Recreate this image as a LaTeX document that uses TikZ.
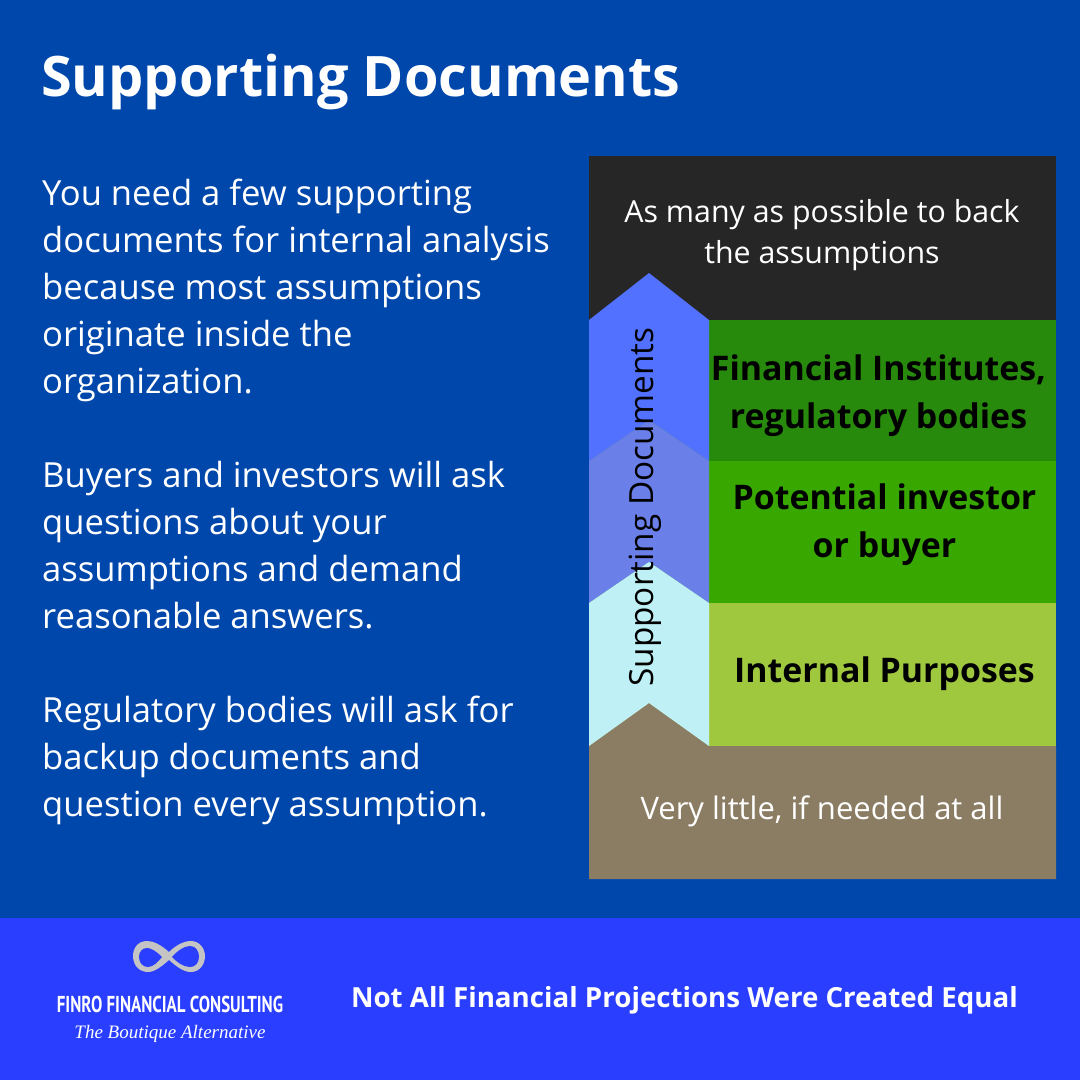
\documentclass[tikz,border=0pt]{standalone}
\usepackage{fontspec}
\setmainfont{Open Sans}
\newfontfamily\condfont{PT Sans}
\newfontfamily\tagfont{Liberation Serif}
\definecolor{bgblue}{HTML}{0047AB}
\definecolor{footblue}{HTML}{2A3EFF}
\definecolor{cdark}{HTML}{262626}
\definecolor{cgreenA}{HTML}{288A0C}
\definecolor{cgreenB}{HTML}{38A800}
\definecolor{cgreenC}{HTML}{A0C83E}
\definecolor{ctan}{HTML}{8B7D63}
\definecolor{arrA}{HTML}{5271FF}
\definecolor{arrB}{HTML}{6A7FE8}
\definecolor{arrC}{HTML}{BEF0F6}
\definecolor{logogray}{HTML}{C4C4C4}
\tikzset{
  x=1pt,y=-1pt,
  bodytext/.style={anchor=north west,align=left,text=white,font=\fontsize{34.6}{47}\selectfont,inner sep=0pt},
  bandtext/.style={anchor=center,align=center,text=black,font=\bfseries\fontsize{33.9}{48}\selectfont,inner sep=0pt},
  captext/.style={anchor=center,align=center,text=white,font=\fontsize{30.35}{41}\selectfont,inner sep=0pt},
}
\begin{document}
\begin{tikzpicture}
\useasboundingbox (0,0) rectangle (1080,1080);
\fill[bgblue] (0,0) rectangle (1080,1080);
\fill[footblue] (0,918) rectangle (1080,1080);
% stack of bands
\fill[cdark] (589,156) rectangle (1056,320);
\fill[cgreenA] (589,320) rectangle (1056,461);
\fill[cgreenB] (589,461) rectangle (1056,603);
\fill[cgreenC] (589,603) rectangle (1056,746);
\fill[ctan] (589,746) -- (649,703) -- (709,746) -- (1056,746) -- (1056,879) -- (589,879) -- cycle;
% chevrons
\fill[arrA] (589,320) -- (649,273) -- (709,320) -- (709,461) -- (649,420) -- (589,461) -- cycle;
\fill[arrB] (589,461) -- (649,420) -- (709,461) -- (709,603) -- (649,562) -- (589,603) -- cycle;
\fill[arrC] (589,603) -- (649,562) -- (709,603) -- (709,746) -- (649,703) -- (589,746) -- cycle;
% texts
\node[anchor=west,text=white,inner sep=0pt,font=\bfseries\fontsize{55.8}{60}\selectfont] (title) at (41,82) {Supporting Documents};
\node[bodytext] (p1) at (42,179) {You need a few supporting\\documents for internal analysis\\because most assumptions\\originate inside the\\organization.};
\node[bodytext] (p2) at (42,461) {Buyers and investors will ask\\questions about your\\assumptions and demand\\reasonable answers.};
\node[bodytext] (p3) at (42,696) {Regulatory bodies will ask for\\backup documents and\\question every assumption.};
\node[captext] (top) at (822,235) {As many as possible to back\\the assumptions};
\node[bandtext] (fi) at (878.5,396) {Financial Institutes,\\regulatory bodies};
\node[bandtext] (pi) at (884.5,525) {Potential investor\\or buyer};
\node[bandtext] (ip) at (884.5,674) {Internal Purposes};
\node[captext,font=\fontsize{31}{41}\selectfont] (vl) at (822,811) {Very little, if needed at all};
\node[rotate=90,anchor=center,text=black,inner sep=0pt,font=\fontsize{33.3}{36}\selectfont] (sd) at (645.5,507) {Supporting Documents};
% logo: ribbon shaped infinity sign
\fill[logogray] (169,952) .. controls (160,944) and (153,941) .. (147,941)
  .. controls (138,941) and (133,948) .. (133,956)
  .. controls (133,965) and (139,972) .. (148,972)
  .. controls (155,972) and (162,966) .. (169,960)
  .. controls (176,966) and (183,972) .. (191,972)
  .. controls (199,972) and (205,965) .. (205,956)
  .. controls (205,948) and (199,941) .. (191,941)
  .. controls (184,941) and (176,945) .. (169,952) -- cycle;
\fill[footblue] (162,957) .. controls (156,951) and (151,948) .. (147,948)
  .. controls (142,948) and (139,952) .. (139,957)
  .. controls (139,963) and (143,967) .. (148,967)
  .. controls (153,967) and (158,962) .. (162,957) -- cycle;
\fill[footblue] (172,957) .. controls (178,950) and (185,946) .. (190,946)
  .. controls (196,946) and (199,951) .. (199,957)
  .. controls (199,963) and (195,967) .. (190,967)
  .. controls (183,967) and (177,962) .. (172,957) -- cycle;
\draw[logogray,line width=1.2pt] (161,965) -- (176,949);
\node[anchor=center,text=white,inner sep=0pt,xscale=0.735,font=\condfont\bfseries\fontsize{23}{24}\selectfont] (firm) at (170,1004) {FINRO FINANCIAL CONSULTING};
\node[anchor=center,text=white,inner sep=0pt,font=\tagfont\itshape\fontsize{19}{24}\selectfont] (tag) at (170,1034) {The Boutique Alternative};
\node[anchor=center,text=white,inner sep=0pt,font=\bfseries\fontsize{27.7}{30}\selectfont] (slogan) at (684.5,1000) {Not All Financial Projections Were Created Equal};
\end{tikzpicture}
\end{document}
